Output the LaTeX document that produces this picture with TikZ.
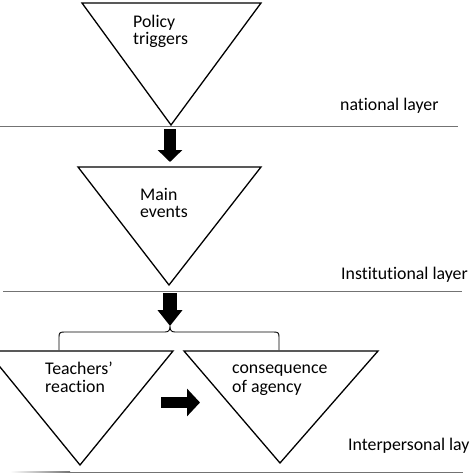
\documentclass[tikz,border=0pt]{standalone}
\usepackage{fontspec}
\setmainfont[Ligatures=NoCommon]{Carlito}
\usetikzlibrary{arrows.meta}
\newcommand{\twoline}[3]{\vtop{\baselineskip=#1pt\hbox{#2}\hbox{#3}}}
\tikzset{
  tri/.style={draw=black, line width=1.3pt, line join=miter},
  layerline/.style={draw=black!55, line width=1pt},
  lbl/.style={anchor=base west, inner sep=0pt, font=\fontsize{17.8}{15}\selectfont},
  fatarrow/.style={line width=#1, draw=black, -{Triangle[length=12pt,width=24pt]}},
}
\begin{document}
\begin{tikzpicture}[x=1pt,y=-1pt]
\useasboundingbox (0,0) rectangle (474,474);
\clip (0,0) rectangle (474,474);
% triangles
\draw[tri] (82,3) coordinate (t1l) -- (261,3) coordinate (t1r) -- (171,125) coordinate (t1a) -- cycle;
\draw[tri] (78,167) coordinate (t2l) -- (261,167) coordinate (t2r) -- (169,285) coordinate (t2a) -- cycle;
\draw[tri] (-13,351) coordinate (t3l) -- (173,351) coordinate (t3r) -- (80,465) coordinate (t3a) -- cycle;
\draw[tri] (184,351) coordinate (t4l) -- (378,351) coordinate (t4r) -- (280,463) coordinate (t4a) -- cycle;
% layer lines
\draw[layerline] (0,126) coordinate (l1a) -- (458,126) coordinate (l1b);
\draw[layerline] (3,291) coordinate (l2a) -- (462,291) coordinate (l2b);
\shade[left color=white, right color=black!55] (10,471.5) rectangle (70,472.5);
\draw[layerline] (70,472) coordinate (l3a) -- (463,472) coordinate (l3b);
% labels
\node[lbl] (pt) at (133,27) {\twoline{17}{Policy}{triggers}};
\node[lbl] (me) at (140,200) {\twoline{17}{Main}{events}};
\node[lbl] (tr) at (45,374) {\twoline{18}{Teachers’}{reaction}};
\node[lbl] (ca) at (232,373) {\twoline{19}{consequence}{of agency}};
\node[lbl] (nl) at (340,110) {national layer};
\node[lbl] (il) at (341,279) {Institutional layer};
\node[lbl] (ipl) at (348,450) {Interpersonal lay};
% arrows
\coordinate (a1s) at (170,129);
\coordinate (a1e) at (170,162);
\draw[fatarrow=12pt] (a1s) -- (a1e);
\coordinate (a2s) at (170,293);
\coordinate (a2e) at (170,326);
\draw[line width=14pt, -{Triangle[length=16pt,width=24pt]}] (a2s) -- (a2e);
\coordinate (a3s) at (161,402.5);
\coordinate (a3e) at (200,402.5);
\draw[line width=11pt, -{Triangle[length=13pt,width=27pt]}] (a3s) -- (a3e);
% brace
\coordinate (bl) at (59,350);
\coordinate (br) at (279,350);
\draw[line width=0.9pt] (bl) -- (59,337) .. controls (59,333) and (60,332) .. (64,332) -- (165,332)
  .. controls (169,332) and (170,330) .. (a2e)
  .. controls (170,330) and (171,332) .. (175,332) -- (274,332)
  .. controls (278,332) and (279,333) .. (279,337) -- (br);
\end{tikzpicture}
\end{document}
